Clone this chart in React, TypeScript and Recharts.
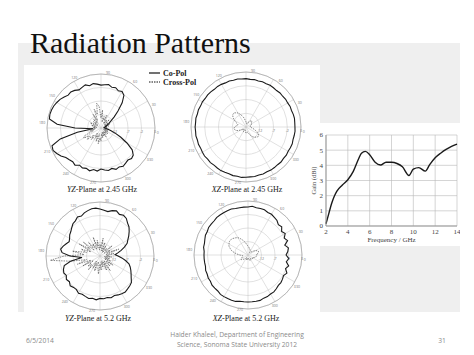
import React from "react";
import {
  RadarChart,
  Radar,
  PolarGrid,
  PolarAngleAxis,
  PolarRadiusAxis,
  LineChart,
  Line,
  XAxis,
  YAxis,
  CartesianGrid,
} from "recharts";

const SERIF = '"Liberation Serif", "Times New Roman", serif';
const SANS = '"Open Sans", "Liberation Sans", sans-serif';

// pattern sample angles (deg), one row per 60 deg
const angles = [
  0, 5, 10, 15, 20, 25, 30, 35, 40, 45, 50, 55,
  60, 65, 70, 75, 80, 85, 90, 95, 100, 105, 110, 115,
  120, 125, 130, 135, 140, 145, 150, 155, 160, 165, 170, 175,
  180, 185, 190, 195, 200, 205, 210, 215, 220, 225, 230, 235,
  240, 245, 250, 255, 260, 265, 270, 275, 280, 285, 290, 295,
  300, 305, 310, 315, 320, 325, 330, 335, 340, 345, 350, 355,
];
const spokeAngles = [0, 30, 60, 90, 120, 150, 180, 210, 240, 270, 300, 330];

// gain in dB, radial axis runs -17 .. 3
const yz245Co = [
  -15.9, -15.9, -15.5, -15.1, -14.4, -13.7, -12.6, -10.7, -8.1, -4.8, -2.2, -1.4,
  -1.8, -1.1, -1.4, -0.7, -0.9, -1.1, -0.7, -0.3, -0.8, 0.0, -0.4, -0.7,
  0.0, 0.4, 0.2, 0.8, 1.5, 1.9, 2.3, 2.5, 2.6, 2.4, -0.7, -7.4,
  -14.0, -8.1, -1.4, 2.3, 2.6, 1.9, 1.1, 0.0, -0.4, -0.7, -0.2, -1.1,
  -0.7, -1.1, -0.6, -1.4, -1.0, -1.8, -1.4, -1.0, -1.5, -0.7, -1.1, -0.6,
  -1.1, -1.5, -1.0, -1.4, -2.9, -5.9, -8.9, -11.4, -13.3, -14.4, -15.1, -15.5,
];
const yz245Cross = [
  -14.8, -15.9, -14.0, -15.5, -13.3, -15.1, -13.7, -15.5, -12.6, -14.8, -13.3, -15.1,
  -11.8, -14.0, -12.6, -14.8, -10.3, -13.3, -8.9, -7.7, -11.8, -9.6, -14.0, -11.1,
  -14.8, -12.6, -15.1, -13.3, -15.5, -14.0, -12.6, -14.8, -13.3, -15.5, -14.0, -15.1,
  -13.3, -14.8, -12.6, -14.0, -10.3, -9.6, -11.8, -10.3, -13.3, -11.4, -14.8, -12.6,
  -14.0, -11.8, -14.8, -11.1, -13.3, -12.2, -14.8, -13.3, -15.5, -13.7, -15.1, -13.3,
  -15.5, -14.0, -15.1, -13.7, -15.9, -14.0, -15.5, -14.4, -15.9, -14.0, -15.5, -14.8,
];
const xz245Co = [
  0.8, 0.9, 0.8, 0.6, 0.7, 0.5, 0.6, 0.4, 0.5, 0.3, 0.4, 0.5,
  0.4, 0.5, 0.3, 0.5, 0.4, 0.6, 0.5, 0.7, 0.6, 0.8, 0.7, 0.9,
  1.0, 0.9, 1.1, 1.2, 1.1, 1.3, 1.2, 1.4, 1.3, 1.5, 1.4, 1.5,
  1.4, 1.5, 1.3, 1.4, 1.2, 1.3, 1.4, 1.2, 1.3, 1.1, 1.2, 1.3,
  1.2, 1.1, 1.3, 1.2, 1.4, 1.3, 1.2, 1.3, 1.1, 1.2, 1.0, 1.1,
  1.0, 0.9, 1.0, 0.8, 0.9, 0.7, 0.8, 0.9, 0.7, 0.8, 0.9, 0.8,
];
const xz245Cross = [
  -15.5, -15.5, -15.1, -15.1, -14.8, -14.8, -14.4, -14.4, -14.0, -14.0, -14.4, -14.8,
  -15.1, -15.5, -15.9, -15.9, -15.5, -15.1, -14.8, -14.0, -13.3, -12.6, -11.8, -11.1,
  -10.7, -10.3, -10.3, -10.7, -11.4, -12.2, -12.9, -13.7, -14.0, -13.7, -13.3, -12.9,
  -12.6, -12.6, -12.9, -13.3, -14.0, -14.8, -15.5, -15.9, -15.9, -15.5, -15.1, -15.1,
  -15.5, -15.9, -15.9, -15.5, -15.1, -14.8, -14.8, -15.1, -15.1, -14.8, -14.0, -13.3,
  -12.6, -12.2, -11.8, -11.4, -11.4, -11.8, -12.6, -13.3, -14.0, -14.8, -15.1, -15.5,
];
const yz52Co = [
  -11.4, -10.3, -8.9, -7.4, -5.9, -5.1, -4.0, -2.9, -1.8, -1.1, 0.0, 0.4,
  0.0, 0.8, 0.4, -0.3, 0.0, 0.4, 0.8, 0.8, 0.4, 0.0, -0.7, -0.3,
  -1.1, -1.4, -2.2, -2.9, -3.3, -4.0, -4.4, -3.7, -2.9, -2.2, -2.9, -5.9,
  -10.3, -5.9, -3.3, -2.6, -2.2, -2.6, -1.8, -2.2, -1.4, -1.8, -1.8, -1.1,
  -1.4, -1.1, -0.7, -1.1, -0.7, -1.3, -1.1, -1.4, -1.0, -1.4, -1.1, -0.9,
  -0.7, -1.1, -1.4, -1.8, -2.9, -3.7, -4.4, -5.1, -5.9, -7.4, -8.9, -10.3,
];
const yz52Cross = [
  -14.0, -11.8, -14.8, -9.6, -14.0, -12.6, -15.1, -11.1, -14.4, -13.3, -15.5, -12.6,
  -14.8, -11.8, -15.1, -10.3, -14.0, -12.6, -14.8, -11.1, -13.7, -9.6, -14.4, -11.8,
  -13.3, -10.3, -14.0, -8.9, -12.6, -8.1, -13.3, -9.6, -11.8, -6.6, -11.1, -3.7,
  1.5, -5.9, -11.8, -8.1, -13.3, -9.6, -14.0, -11.1, -12.6, -10.3, -14.8, -11.8,
  -14.0, -11.1, -14.8, -12.6, -10.3, -14.0, -11.8, -14.8, -12.6, -15.1, -11.1, -14.4,
  -10.3, -14.8, -11.8, -14.0, -11.1, -15.1, -12.6, -14.8, -13.3, -15.5, -12.6, -14.8,
];
const xz52Co = [
  -2.2, -1.8, -2.9, -1.4, -2.2, -1.1, -1.8, -0.7, -1.1, -0.3, 0.0, 0.4,
  0.4, 0.8, 0.8, 0.8, 1.1, 0.8, 0.8, 0.8, 0.8, 1.1, 1.1, 1.1,
  1.1, 1.1, 0.8, 0.8, 0.8, 0.4, 0.4, 0.0, -0.3, -0.3, -0.7, -0.7,
  -0.7, -0.7, -0.7, -0.3, -0.3, 0.0, 0.0, 0.4, 0.4, 0.4, 0.8, 0.8,
  0.8, 0.8, 0.8, 0.4, 0.4, 0.4, 0.4, 0.4, 0.4, 0.0, 0.0, -0.3,
  -0.3, -0.7, -1.1, -1.1, -1.4, -1.8, -1.1, -2.2, -1.4, -2.6, -1.8, -2.9,
];
const xz52Cross = [
  -13.7, -13.3, -12.9, -12.9, -13.3, -13.7, -14.4, -15.1, -15.5, -15.9, -15.9, -15.5,
  -15.1, -14.8, -14.8, -14.4, -14.0, -13.7, -13.3, -12.6, -11.8, -11.1, -10.3, -9.6,
  -9.2, -8.9, -8.5, -8.5, -8.5, -8.9, -9.2, -10.0, -10.7, -11.8, -12.9, -14.0,
  -14.8, -15.1, -15.1, -14.8, -14.4, -14.0, -14.0, -14.4, -14.8, -15.1, -15.5, -15.9,
  -15.9, -15.5, -15.1, -15.1, -15.5, -15.9, -15.9, -15.5, -15.1, -14.8, -15.1, -15.5,
  -15.5, -15.1, -14.8, -14.8, -15.1, -15.1, -14.8, -14.4, -14.0, -14.0, -13.7, -13.7,
];

// gain vs frequency
const freq = [2, 2.25, 2.5, 2.75, 3, 3.5, 4, 4.5, 5, 5.25, 5.6, 6, 6.5, 7, 7.5, 8, 8.5, 9, 9.6, 10, 10.5, 11.1, 11.5, 12, 12.5, 13, 13.5, 14];
const gain = [0.15, 0.8, 1.45, 1.95, 2.3, 2.7, 3.05, 3.6, 4.45, 4.8, 4.92, 4.7, 4.2, 4.02, 4.2, 4.2, 4.12, 3.9, 3.33, 3.75, 3.85, 3.62, 4.05, 4.5, 4.8, 5.05, 5.25, 5.4];
const freqTicks = [2, 4, 6, 8, 10, 12, 14];
const gainTicks = [0, 1, 2, 3, 4, 5, 6];

function AngleTick(props: any) {
  const { x, y, payload, textAnchor } = props;
  const v = Number(payload.value);
  if (v % 30 !== 0) return <g />;
  // bottom label sits a touch higher so it clears the caption
  const dy = v === 270 ? 0.6 : 1.3;
  return (
    <text x={x} y={y} dy={dy} textAnchor={textAnchor} fontSize={3.6} fill="#777" fontFamily={SANS}>
      {payload.value}
    </text>
  );
}

function RadiusTick(props: any) {
  const { x, y, payload } = props;
  if (Number(payload.value) === -17) return <g />;
  return (
    <text x={x} y={y + 4.5} textAnchor="middle" fontSize={3.6} fill="#777" fontFamily={SANS}>
      {payload.value}
    </text>
  );
}

function Pattern({ co, cross, cx, cy, r }: { co: number[]; cross: number[]; cx: number; cy: number; r: number }) {
  const data = angles.map((a, i) => ({ angle: a, co: co[i], cross: cross[i] }));
  const size = 140;
  return (
    <div style={{ position: "absolute", left: cx - size / 2, top: cy - size / 2 }}>
      <RadarChart
        width={size}
        height={size}
        cx={size / 2}
        cy={size / 2}
        outerRadius={r}
        startAngle={0}
        endAngle={360}
        data={data}
        margin={{ top: 0, right: 0, bottom: 0, left: 0 }}
      >
        <PolarGrid gridType="circle" polarAngles={spokeAngles} stroke="#c2c2c2" strokeWidth={0.5} />
        <PolarAngleAxis
          dataKey="angle"
          tick={AngleTick}
          tickLine={false}
          tickSize={2}
          axisLineType="circle"
          axisLine={{ stroke: "#9a9a9a", strokeWidth: 0.6 }}
        />
        <PolarRadiusAxis
          angle={0}
          domain={[-17, 3]}
          tickCount={5}
          allowDataOverflow
          axisLine={false}
          tickLine={false}
          tick={RadiusTick}
        />
        <Radar
          dataKey="cross"
          stroke="#555"
          strokeWidth={0.7}
          strokeDasharray="1.5 1"
          fill="none"
          fillOpacity={0}
          dot={false}
          isAnimationActive={false}
        />
        <Radar
          dataKey="co"
          stroke="#1a1a1a"
          strokeWidth={1.1}
          fill="none"
          fillOpacity={0}
          dot={false}
          isAnimationActive={false}
        />
      </RadarChart>
    </div>
  );
}

const XLabel = (props: any) => {
  const vb = props.viewBox;
  return (
    <text x={vb.x + vb.width / 2} y={vb.y + vb.height - 4} textAnchor="middle" fontSize={7} fill="#444" fontFamily={SERIF}>
      Frequency / GHz
    </text>
  );
};

const YLabel = (props: any) => {
  const vb = props.viewBox;
  const x = vb.x + 6;
  const y = vb.y + vb.height / 2;
  return (
    <text x={x} y={y} transform={`rotate(-90 ${x} ${y})`} textAnchor="middle" fontSize={6.5} fill="#444" fontFamily={SERIF}>
      Gain (dBi)
    </text>
  );
};

function Caption({ x, y, plane, text }: { x: number; y: number; plane: string; text: string }) {
  return (
    <text x={x} y={y} textAnchor="middle" fontSize={8} fill="#1a1a1a" fontFamily={SERIF}>
      <tspan fontStyle="italic">{plane}</tspan>
      {text}
    </text>
  );
}

export default function App() {
  const gainData = freq.map((f, i) => ({ freq: f, gain: gain[i] }));
  return (
    <div style={{ position: "absolute", left: 0, top: 0, width: 474, height: 355, background: "#fff", overflow: "hidden" }}>
      <svg width={474} height={355} style={{ position: "absolute", left: 0, top: 0 }}>
        <rect x={18} y={43} width={442} height={269} fill="#efefef" />
        <rect x={24} y={65} width={296} height={290} fill="#fff" />
        <rect x={320} y={123} width={140} height={123} fill="#fff" />
        <text x={30} y={53} fontSize={30} fill="#111" fontFamily={SERIF}>
          Radiation Patterns
        </text>

        <line x1={149} y1={73} x2={160} y2={73} stroke="#111" strokeWidth={1.2} />
        <text x={163} y={75.5} fontSize={8} fontWeight="bold" fill="#222" fontFamily={SERIF}>Co-Pol</text>
        <line x1={149} y1={82} x2={160} y2={82} stroke="#111" strokeWidth={1} strokeDasharray="1.5 1" />
        <text x={163} y={84.5} fontSize={8} fontWeight="bold" fill="#222" fontFamily={SERIF}>Cross-Pol</text>

        <Caption x={102} y={192} plane="YZ" text="-Plane at 2.45 GHz" />
        <Caption x={247} y={192} plane="XZ" text="-Plane at 2.45 GHz" />
        <Caption x={98} y={321} plane="YZ" text="-Plane at 5.2 GHz" />
        <Caption x={246} y={321} plane="XZ" text="-Plane at 5.2 GHz" />

        <text x={26} y={343} fontSize={6.7} fill="#8a8a8a" fontFamily={SANS}>6/5/2014</text>
        <text x={237} y={337} textAnchor="middle" fontSize={6.7} fill="#8a8a8a" fontFamily={SANS}>
          Haider Khaleel, Department of Engineering
        </text>
        <text x={237} y={346.5} textAnchor="middle" fontSize={6.7} fill="#8a8a8a" fontFamily={SANS}>
          Science, Sonoma State University 2012
        </text>
        <text x={442} y={343} textAnchor="middle" fontSize={6.7} fill="#8a8a8a" fontFamily={SANS}>31</text>
      </svg>

      <Pattern co={yz245Co} cross={yz245Cross} cx={101} cy={128} r={54} />
      <Pattern co={xz245Co} cross={xz245Cross} cx={246} cy={127} r={55} />
      <Pattern co={yz52Co} cross={yz52Cross} cx={100} cy={256} r={54} />
      <Pattern co={xz52Co} cross={xz52Cross} cx={248} cy={255} r={54} />

      <div style={{ position: "absolute", left: 310, top: 123 }}>
        <LineChart width={150} height={123} data={gainData} margin={{ top: 12, right: 3, bottom: 0, left: 0 }}>
          <CartesianGrid stroke="#b8b8b8" strokeWidth={0.6} />
          <XAxis
            dataKey="freq"
            type="number"
            domain={[2, 14]}
            ticks={freqTicks}
            interval={0}
            height={20}
            tickLine={false}
            tickSize={2}
            tickMargin={1}
            axisLine={{ stroke: "#999" }}
            tick={{ fontSize: 7, fill: "#444", fontFamily: SERIF }}
            label={XLabel}
          />
          <YAxis
            type="number"
            domain={[0, 6]}
            ticks={gainTicks}
            interval={0}
            width={16}
            tickLine={false}
            tickSize={2}
            tickMargin={1}
            axisLine={{ stroke: "#999" }}
            tick={{ fontSize: 7, fill: "#444", fontFamily: SERIF }}
            label={YLabel}
          />
          <Line dataKey="gain" type="monotone" stroke="#1a1a1a" strokeWidth={1.4} dot={false} isAnimationActive={false} />
        </LineChart>
      </div>
    </div>
  );
}
